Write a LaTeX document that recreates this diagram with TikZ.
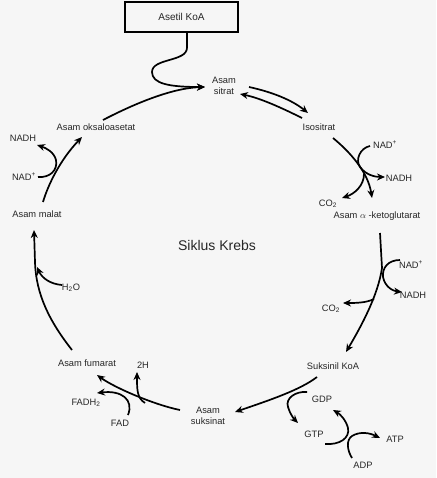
\documentclass[tikz,border=0pt]{standalone}
\usepackage{fontspec}
\setmainfont{Liberation Sans}
\usetikzlibrary{arrows.meta}
\definecolor{paper}{RGB}{246,246,246}

\begin{document}
\begin{tikzpicture}[
    x=1pt, y=-1pt,
    >={Stealth[length=8pt,width=7pt]},
    every node/.style={font=\fontsize{9.3}{10.5}\selectfont, inner sep=1pt, text=black!85},
    lbl/.style={align=center},
    flow/.style={->, line width=1.7pt},
    box/.style={draw, line width=1.4pt, minimum width=113pt, minimum height=30pt}
]
\useasboundingbox[fill=paper] (0,0) rectangle (436,478);

\node[box, font=\fontsize{10}{11}\selectfont] (asetil) at (181.5,17) {Asetil KoA};

\node[lbl] (sitrat) at (224,86) {Asam\\sitrat};
\node (isositrat) at (319,127) {Isositrat};
\node (ketoglutarat) at (377,216) {Asam $\alpha$ -ketoglutarat};
\node (suksinil) at (333,366) {Suksinil KoA};
\node[lbl] (suksinat) at (208,416) {Asam\\suksinat};
\node (fumarat) at (87,363) {Asam fumarat};
\node (malat) at (37,214) {Asam malat};
\node (oksalo) at (96,127) {Asam oksaloasetat};
\node[font=\fontsize{14}{16}\selectfont] (krebs) at (217,245) {Siklus Krebs};

\node (nad1) at (385,145) {NAD\textsuperscript{+}};
\node (nadh1) at (399,178) {NADH};
\node (co2a) at (328,204) {CO\textsubscript{2}};
\node (nad2) at (411,265) {NAD\textsuperscript{+}};
\node (nadh2) at (413,295) {NADH};
\node (co2b) at (331,309) {CO\textsubscript{2}};
\node (gdp) at (322,399) {GDP};
\node (gtp) at (314,434) {GTP};
\node (atp) at (395,439) {ATP};
\node (adp) at (363,465) {ADP};
\node (fadh2) at (86,403) {FADH\textsubscript{2}};
\node (fad) at (120,423) {FAD};
\node (twoh) at (143,365) {2H};
\node (h2o) at (71,288) {H\textsubscript{2}O};
\node (nad3) at (24,177) {NAD\textsuperscript{+}};
\node (nadh3) at (23,138) {NADH};

\coordinate (j1) at (364,174);
\coordinate (j2) at (374,299);
\coordinate (j3) at (145,403);
\coordinate (j4) at (37,267);

\draw[flow] ([xshift=5.5pt]asetil.south) -- ++(0,15)
    .. controls (187,62) and (152,58) .. (152,72)
    .. controls (152,84) and (170,87) .. ([shift={(-19,1)}]sitrat.center);
\draw[flow] ([shift={(7,-7)}]oksalo.center) .. controls (130,106) and (170,88) .. ([shift={(-19,1)}]sitrat.center);

\draw[flow] ([shift={(25,1)}]sitrat.center) .. controls (272,92) and (292,100) .. ([shift={(-11,-14)}]isositrat.center);
\draw[flow] ([shift={(-17,-9)}]isositrat.center) .. controls (282,108) and (260,98) .. ([shift={(16,8)}]sitrat.center);

\draw[flow] ([shift={(14,11)}]isositrat.center) .. controls (350,152) and (368,172) .. ([shift={(-5,-18)}]ketoglutarat.center);
\draw[flow] ([shift={(-15,1)}]nad1.center) .. controls (360,148) and (355,160) .. (360,167)
    .. controls (366,175) and (375,177) .. ([shift={(-14,-1)}]nadh1.center);
\draw[flow] (j1) .. controls (364,186) and (354,194) .. ([shift={(14,-6)}]co2a.center);

\draw[flow] ([shift={(3,17)}]ketoglutarat.center) -- (382,268)
    .. controls (378,295) and (362,325) .. ([shift={(13,-14)}]suksinil.center);
\draw[flow] ([shift={(-11,-5)}]nad2.center) .. controls (388,260) and (382,268) .. (383,277)
    .. controls (385,287) and (393,291) .. ([shift={(-11,-3)}]nadh2.center);
\draw[flow] (j2) .. controls (366,303) and (355,303) .. ([shift={(12,-6)}]co2b.center);

\draw[flow] ([shift={(-16,11)}]suksinil.center) .. controls (300,390) and (270,400) .. ([shift={(27,-4)}]suksinat.center);
\draw[flow] ([shift={(-15,-7)}]gdp.center) .. controls (296,391) and (285,398) .. (288,407)
    .. controls (290,414) and (294,419) .. ([shift={(-16,-11)}]gtp.center);
\draw[flow] ([shift={(11,10)}]gtp.center) .. controls (340,445) and (350,438) .. (348,428)
    .. controls (346,420) and (340,414) .. ([shift={(11,11)}]gdp.center);
\draw[flow] ([shift={(-11,-7)}]adp.center) .. controls (347,450) and (346,440) .. (352,436)
    .. controls (360,431) and (370,433) .. ([shift={(-15,-1)}]atp.center);

\draw[flow] ([shift={(-28,-6)}]suksinat.center) .. controls (155,405) and (115,388) .. ([shift={(10,12)}]fumarat.center);
\draw[flow] ([shift={(8,-8)}]fad.center) .. controls (134,400) and (122,390) .. ([shift={(11,-10)}]fadh2.center);
\draw[flow] (j3) .. controls (137,398) and (137,390) .. ([shift={(-6,7)}]twoh.center);

\draw[flow] ([shift={(-15,-13)}]fumarat.center) .. controls (50,322) and (36,295) .. (35,262)
    -- ([shift={(-3,16)}]malat.center);
\draw[flow] ([shift={(-9,-3)}]h2o.center) .. controls (50,284) and (42,278) .. (j4);

\draw[flow] ([shift={(6,-12)}]malat.center) .. controls (48,185) and (60,160) .. ([shift={(-14,10)}]oksalo.center);
\draw[flow] ([shift={(14,0)}]nad3.center) .. controls (50,178) and (58,170) .. (56,160)
    .. controls (54,152) and (46,148) .. ([shift={(14,7)}]nadh3.center);

\end{tikzpicture}
\end{document}
